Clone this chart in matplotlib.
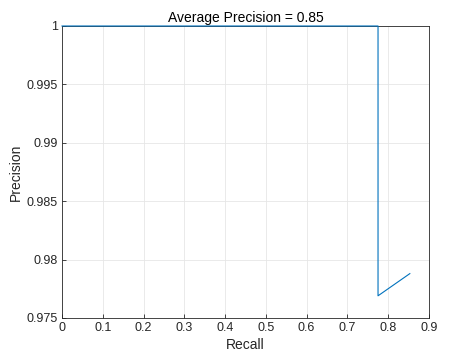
import matplotlib
matplotlib.use('Agg')
import matplotlib.pyplot as plt

# precision / recall curve values
recall = [0.0, 0.775, 0.775, 0.853]
precision = [1.0, 1.0, 0.9769, 0.9788]
avg_precision = 0.85

x_ticks = [0, 0.1, 0.2, 0.3, 0.4, 0.5, 0.6, 0.7, 0.8, 0.9]
y_ticks = [0.975, 0.98, 0.985, 0.99, 0.995, 1]
y_tick_labels = ['0.975', '0.98', '0.985', '0.99', '0.995', '1']

plt.rcParams['font.family'] = ['Liberation Sans', 'DejaVu Sans']

fig = plt.figure(figsize=(4.74, 3.55), dpi=100)
ax = fig.add_axes([62 / 474, 1 - 318 / 355, 367 / 474, 292 / 355])

ax.plot(recall, precision, color='#0072BD', linewidth=0.8, clip_on=False, zorder=3)

ax.set_xlim(0, 0.9)
ax.set_ylim(0.975, 1)
ax.set_xticks(x_ticks)
ax.set_xticklabels([f'{t:g}' for t in x_ticks])
ax.set_yticks(y_ticks)
ax.set_yticklabels(y_tick_labels)

ax.grid(True, color='#e6e6e6', linewidth=0.6)
ax.set_axisbelow(True)
for s in ax.spines.values():
    s.set_color('#262626')
    s.set_linewidth(0.6)
ax.tick_params(direction='in', length=3, width=0.6, colors='#262626',
               labelsize=9, labelcolor='#262626', pad=3)

ax.set_xlabel('Recall', fontsize=10, color='#262626', labelpad=3)
ax.set_ylabel('Precision', fontsize=10, color='#262626', labelpad=3)
ax.set_title(f'Average Precision = {avg_precision:.2f}', fontsize=10,
             color='#000000', pad=3)

fig.savefig('out.png', dpi=100)
